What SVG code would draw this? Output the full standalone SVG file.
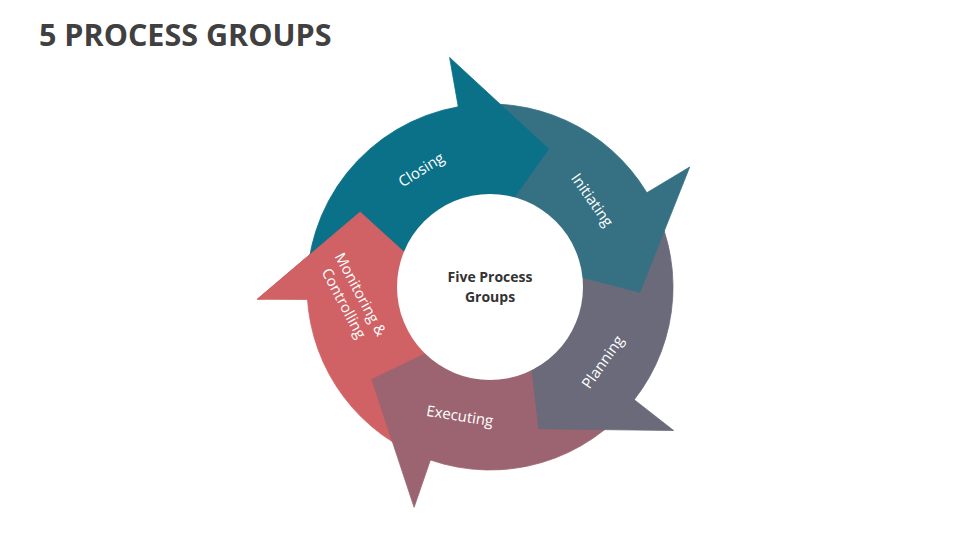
<svg xmlns="http://www.w3.org/2000/svg" width="960" height="540" viewBox="0 0 960 540">
<style>
.lbl{font-family:"Open Sans","Liberation Sans",sans-serif;font-size:15px;fill:#fff;text-anchor:middle}
path{stroke-width:0.8;stroke-linejoin:round}
</style>
<rect width="960" height="540" fill="#fff"/>
<text x="39" y="46" font-family="'Open Sans','Liberation Sans',sans-serif" font-weight="bold" font-size="30.5" fill="#404040">5 PROCESS GROUPS</text>
<g id="connectors"/>
<g id="monitoring"><path fill="#D06164" stroke="#D06164" d="M430.4,460 A183,183 0 0 1 307.3,296.6 L430.1,290.1 A60,60 0 0 0 470.5,343.7 Z M257.3,299.2 L360.1,212 L445.1,289.4 Z"/></g>
<g id="executing"><path fill="#9B6470" stroke="#9B6470" d="M634.2,399.7 A183,183 0 0 1 430.4,460 L470.5,343.7 A60,60 0 0 0 537.3,323.9 Z M414.1,507.3 L371.8,379.4 L475.3,329.5 Z"/></g>
<g id="planning"><path fill="#6A6A7A" stroke="#6A6A7A" d="M646.9,192.8 A183,183 0 0 1 634.2,399.7 L537.3,323.9 A60,60 0 0 0 541.4,256.1 Z M673.6,430.5 L538.8,428.8 L525.5,314.7 Z"/></g>
<g id="initiating"><path fill="#367183" stroke="#367183" d="M458.2,106.8 A183,183 0 0 1 646.9,192.8 L541.4,256.1 A60,60 0 0 0 479.6,227.9 Z M689.7,167 L639.9,292.2 L528.6,263.8 Z"/></g>
<g id="closing"><path fill="#0B7189" stroke="#0B7189" d="M307.3,296.6 A183,183 0 0 1 458.2,106.8 L479.6,227.9 A60,60 0 0 0 430.1,290.1 Z M449.6,57.5 L548.6,148.9 L482.2,242.7 Z"/></g>
<path fill="#D06164" stroke="#D06164" d="M257.3,299.2 L360.1,212 L445.1,289.4 L445.2,292.4 L307.6,299.5 Z"/>
<g id="center"><circle cx="490" cy="287" r="93" fill="#fff"/>
<text x="490" y="282" font-family="'Open Sans','Liberation Sans',sans-serif" font-weight="bold" font-size="14" fill="#333" text-anchor="middle">Five Process</text>
<text x="490" y="302" font-family="'Open Sans','Liberation Sans',sans-serif" font-weight="bold" font-size="14" fill="#333" text-anchor="middle">Groups</text></g>
<text class="lbl" transform="translate(424,174) rotate(-32)">Closing</text>
<text class="lbl" transform="translate(588,203) rotate(55)">Initiating</text>
<text class="lbl" transform="translate(607,365) rotate(-55)">Planning</text>
<text class="lbl" transform="translate(459,421) rotate(9)">Executing</text>
<text class="lbl" transform="translate(348,301) rotate(62)"><tspan x="0" y="-9">Monitoring &amp;</tspan><tspan x="0" y="10">Controlling</tspan></text>
</svg>
